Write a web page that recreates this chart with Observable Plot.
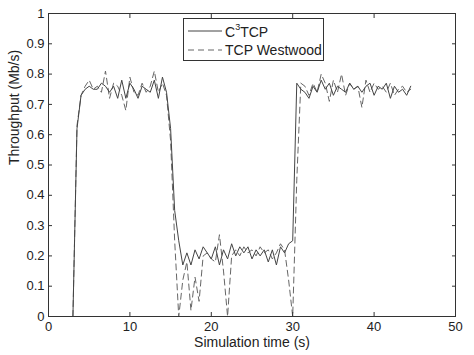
<!DOCTYPE html>
<html>
<head>
<meta charset="utf-8">
<script src="https://cdn.jsdelivr.net/npm/d3@7"></script>
<script src="https://cdn.jsdelivr.net/npm/@observablehq/plot@0.6"></script>
<style>
  html, body { margin: 0; padding: 0; background: #fff; }
  #wrap { position: relative; width: 474px; height: 355px; font-family: "Liberation Sans", Arial, Helvetica, sans-serif; }
  #legend { position: absolute; left: 183px; top: 18px; width: 139px; height: 41px; border: 1px solid #333; background: #fff; color: #222; font-size: 14px; }
  #legend .row { position: absolute; left: 4px; height: 18px; display: flex; align-items: center; }
  #legend svg { margin-right: 3px; }
  #legend sup { font-size: 9px; position: relative; top: -1px; }
</style>
</head>
<body>
<div id="wrap">
  <div id="chart"></div>
  <div id="legend">
    <div class="row" style="top:3px"><svg width="34" height="4"><line x1="0" y1="2" x2="34" y2="2" stroke="#444" stroke-width="1"/></svg><span>C<sup>3</sup>TCP</span></div>
    <div class="row" style="top:22px"><svg width="34" height="4"><line x1="0" y1="2" x2="34" y2="2" stroke="#666" stroke-width="1" stroke-dasharray="6,4"/></svg><span>TCP Westwood</span></div>
  </div>
</div>
<script>
const time = [3,3.5,4,4.5,5,5.5,6,6.5,7,7.5,8,8.5,9,9.5,10,10.5,11,11.5,12,12.5,13,13.5,14,14.5,
  15,15.5,16,16.5,17,17.5,18,18.5,19,19.5,20,20.5,21,21.5,22,22.5,23,23.5,24,24.5,25,25.5,26,26.5,27,27.5,28,28.5,29,29.5,30,
  30.5,31,31.5,32,32.5,33,33.5,34,34.5,35,35.5,36,36.5,37,37.5,38,38.5,39,39.5,40,40.5,41,41.5,42,42.5,43,43.5,44,44.5];

const c3tcp = [0,0.62,0.73,0.75,0.76,0.75,0.75,0.77,0.76,0.74,0.76,0.72,0.78,0.72,0.77,0.75,0.72,0.76,0.75,0.74,0.78,0.72,0.79,0.74,
  0.62,0.35,0.25,0.17,0.21,0.17,0.22,0.19,0.23,0.21,0.19,0.23,0.17,0.22,0.19,0.24,0.20,0.23,0.21,0.23,0.19,0.22,0.20,0.22,0.18,0.22,0.17,0.23,0.21,0.24,0.25,
  0.77,0.75,0.74,0.72,0.76,0.74,0.78,0.75,0.77,0.73,0.76,0.75,0.74,0.77,0.75,0.76,0.74,0.76,0.77,0.73,0.76,0.75,0.77,0.72,0.76,0.74,0.75,0.73,0.76];

const westwood = [0,0.63,0.73,0.76,0.78,0.75,0.76,0.74,0.81,0.72,0.77,0.76,0.73,0.68,0.79,0.74,0.73,0.77,0.74,0.76,0.81,0.74,0.77,0.73,
  0.58,0.25,0.0,0.12,0.18,0.02,0.13,0.05,0.20,0.21,0.19,0.18,0.27,0.15,0.0,0.20,0.22,0.20,0.23,0.21,0.22,0.20,0.23,0.21,0.22,0.19,0.21,0.24,0.22,0.12,0.0,
  0.45,0.77,0.76,0.73,0.77,0.74,0.80,0.77,0.71,0.78,0.74,0.80,0.73,0.77,0.75,0.76,0.69,0.78,0.74,0.77,0.75,0.76,0.74,0.77,0.73,0.75,0.76,0.74,0.75];

const xTicks = [0,10,20,30,40,50];
const yTicks = [0,0.1,0.2,0.3,0.4,0.5,0.6,0.7,0.8,0.9,1];
const yTickLabels = ["0","0.1","0.2","0.3","0.4","0.5","0.6","0.7","0.8","0.9","1"];
const xLabel = "Simulation time (s)";
const yLabel = "Throughput (Mb/s)";

const c3Data = time.map((t, i) => ({t, v: c3tcp[i]}));
const wwData = time.map((t, i) => ({t, v: westwood[i]}));

const chart = Plot.plot({
  width: 474,
  height: 355,
  marginLeft: 48,
  marginRight: 19,
  marginTop: 13,
  marginBottom: 39,
  style: {fontFamily: '"Liberation Sans", Arial, Helvetica, sans-serif', fontSize: "13px", color: "#222", background: "#fff"},
  x: {domain: [0, 50]},
  y: {domain: [0, 1]},
  marks: [
    Plot.line(wwData, {x: "t", y: "v", stroke: "#666", strokeWidth: 1, strokeDasharray: "6,4"}),
    Plot.line(c3Data, {x: "t", y: "v", stroke: "#444", strokeWidth: 1}),
    Plot.frame({stroke: "#333"}),
    Plot.axisX({ticks: xTicks, tickSize: -4, tickPadding: 9, label: null, stroke: "#333"}),
    Plot.axisX({anchor: "top", ticks: xTicks, tickSize: -4, tickFormat: () => "", label: null, stroke: "#333"}),
    Plot.axisY({ticks: yTicks, tickSize: -4, tickPadding: 8, tickFormat: (d, i) => yTickLabels[i], label: null, stroke: "#333"}),
    Plot.axisY({anchor: "right", ticks: yTicks, tickSize: -4, tickFormat: () => "", label: null, stroke: "#333"}),
    Plot.text([xLabel], {frameAnchor: "bottom", dy: 30, text: d => d, fontSize: 14}),
    Plot.text([yLabel], {frameAnchor: "left", dx: -34, rotate: -90, text: d => d, fontSize: 14})
  ]
});
document.getElementById("chart").appendChild(chart);
</script>
</body>
</html>
